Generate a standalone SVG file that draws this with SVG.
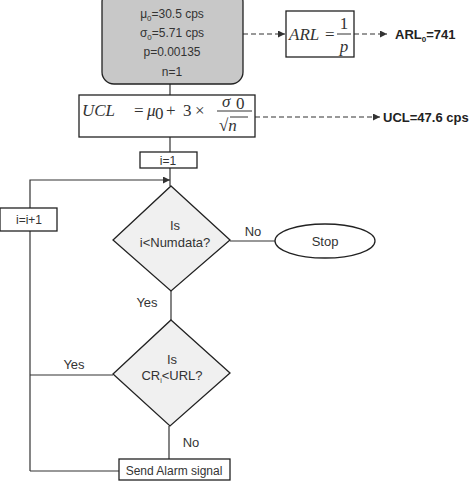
<svg xmlns="http://www.w3.org/2000/svg" width="474" height="481" viewBox="0 0 474 481">
<defs>
<marker id="ah" viewBox="0 0 10 10" refX="10" refY="5" markerWidth="7" markerHeight="7" orient="auto" markerUnits="userSpaceOnUse"><path d="M0,0 L10,5 L0,10 z" fill="#333"/></marker>
</defs>
<style>
.ln{stroke:#333;stroke-width:1.2;fill:none}
.ds{stroke:#333;stroke-width:1.2;fill:none;stroke-dasharray:5,3}
.bx{stroke:#222;stroke-width:1.3;fill:#fff}
.t{font-family:"Liberation Sans",Arial,sans-serif;font-size:12px;fill:#333;text-anchor:middle}
.d{font-size:13px}
.b{font-family:"Liberation Sans",Arial,sans-serif;font-size:13px;font-weight:bold;fill:#222}
.m{font-family:"Liberation Serif","Times New Roman",serif;font-size:17px;fill:#333}
.i{font-style:italic}
</style>
<rect width="474" height="481" fill="#fff"/>
<g id="connectors">
<line class="ln" x1="170" y1="84" x2="170" y2="95"/>
<line class="ln" x1="170" y1="137" x2="170" y2="152"/>
<line class="ln" x1="170" y1="168" x2="170" y2="186"/>
<polyline class="ln" points="30,208 30,180 170,180" marker-end="url(#ah)"/>
<line class="ln" x1="30" y1="231" x2="30" y2="471"/>
<line class="ln" x1="30" y1="471" x2="119" y2="471"/>
<line class="ln" x1="30" y1="375" x2="113" y2="375"/>
<line class="ln" x1="230" y1="241" x2="275" y2="241"/>
<line class="ln" x1="171" y1="291" x2="171" y2="320"/>
<line class="ln" x1="169" y1="426" x2="169" y2="459"/>
<line class="ds" x1="243" y1="34" x2="285" y2="34" marker-end="url(#ah)"/>
<line class="ds" x1="354" y1="34" x2="387" y2="34" marker-end="url(#ah)"/>
<line class="ds" x1="255" y1="117" x2="380" y2="117" marker-end="url(#ah)"/>
<text class="t d" x="253" y="236">No</text>
<text class="t d" x="147" y="307">Yes</text>
<text class="t d" x="74" y="369">Yes</text>
<text class="t d" x="191" y="447">No</text>
</g>
<g id="params">
<rect x="102" y="-10" width="141" height="94" rx="12" fill="#c8c8c8" stroke="#222" stroke-width="1.3"/>
<text class="t" x="172" y="18">μ<tspan font-size="8" dy="3">0</tspan><tspan dy="-3">=30.5 cps</tspan></text>
<text class="t" x="172" y="37">σ<tspan font-size="8" dy="3">0</tspan><tspan dy="-3">=5.71 cps</tspan></text>
<text class="t" x="172" y="56">p=0.00135</text>
<text class="t" x="172" y="76">n=1</text>
</g>
<g id="arl">
<rect class="bx" x="286" y="11" width="68" height="46"/>
<text class="m i" x="289" y="40">ARL</text>
<text class="m" x="325" y="40">=</text>
<text class="m" x="344" y="29" text-anchor="middle">1</text>
<line x1="337" y1="34" x2="351" y2="34" stroke="#333" stroke-width="1"/>
<text class="m i" x="344" y="52" text-anchor="middle">p</text>
</g>
<g id="arl-out"><text class="b" x="395" y="39">ARL<tspan font-size="8" dy="3">0</tspan><tspan dy="-3">=741</tspan></text></g>
<g id="ucl">
<rect class="bx" x="79" y="95" width="176" height="42"/>
<text class="m i" x="82" y="116" font-size="16">UCL</text>
<text class="m" x="134" y="116" font-size="15">=</text>
<text class="m i" x="147" y="116">μ</text>
<text class="m" x="155" y="119" font-size="8">0</text>
<text class="m" x="166" y="116">+</text>
<text class="m" x="183" y="116">3</text>
<text class="m" x="195" y="116">×</text>
<text class="m i" x="222" y="107">σ</text>
<text class="m" x="236" y="109" font-size="8">0</text>
<line x1="217" y1="111" x2="252" y2="111" stroke="#333" stroke-width="1"/>
<text class="m" x="219" y="131">√<tspan class="i">n</tspan></text>
<line x1="230" y1="117" x2="248" y2="117" stroke="#333" stroke-width="1"/>
</g>
<g id="ucl-out"><text class="b" x="383" y="122">UCL=47.6 cps</text></g>
<g id="init">
<rect class="bx" x="140" y="152" width="57" height="16"/>
<text class="t" x="168" y="165">i=1</text>
</g>
<g id="incr">
<rect class="bx" x="0" y="208" width="57" height="23"/>
<text class="t" x="29" y="224">i=i+1</text>
</g>
<g id="check1">
<polygon points="171,186 230,240 171,291 113,240" fill="#f0f0f0" stroke="#222" stroke-width="1.3"/>
<text class="t d" x="175" y="230">Is</text>
<text class="t d" x="175" y="247">i&lt;Numdata?</text>
</g>
<g id="stop">
<ellipse cx="325" cy="241" rx="50" ry="17" fill="#fff" stroke="#222" stroke-width="1.3"/>
<text class="t d" x="325" y="246">Stop</text>
</g>
<g id="check2">
<polygon points="171,320 230,373 170,426 113,374" fill="#f0f0f0" stroke="#222" stroke-width="1.3"/>
<text class="t d" x="172" y="364">Is</text>
<text class="t d" x="172" y="380">CR<tspan font-size="7" dy="3">i</tspan><tspan dy="-3">&lt;URL?</tspan></text>
</g>
<g id="alarm">
<rect class="bx" x="119" y="459" width="111" height="21"/>
<text class="t" x="174" y="475">Send Alarm signal</text>
</g>
</svg>
